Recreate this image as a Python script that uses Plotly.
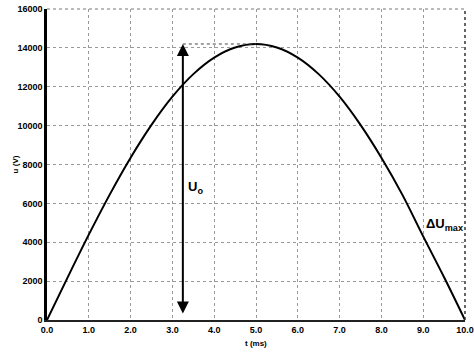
import plotly.graph_objects as go

t_ms = [0.0, 0.5, 1.0, 1.5, 2.0, 2.5, 3.0, 3.5, 4.0, 4.5, 5.0, 5.5, 6.0, 6.5, 7.0, 7.5, 8.0, 8.5, 9.0, 9.5, 10.0]
u_v = [0, 2220, 4390, 6450, 8350, 10040, 11490, 12650, 13500, 14020, 14200,
       14020, 13500, 12650, 11490, 10040, 8350, 6450, 4300, 2200, 0]

x_ticks = [0, 1, 2, 3, 4, 5, 6, 7, 8, 9, 10]
x_labels = ["0.0", "1.0", "2.0", "3.0", "4.0", "5.0", "6.0", "7.0", "8.0", "9.0", "10.0"]
y_ticks = [0, 2000, 4000, 6000, 8000, 10000, 12000, 14000, 16000]
y_labels = [str(v) for v in y_ticks]

arrow_t = 3.25
peak_u = 14200

fig = go.Figure()
fig.add_trace(go.Scatter(x=t_ms, y=u_v, mode="lines", line=dict(color="black", width=2, shape="spline"),
                         showlegend=False, hoverinfo="skip"))
# peak reference dotted line
fig.add_trace(go.Scatter(x=[arrow_t, 5.0], y=[peak_u, peak_u], mode="lines",
                         line=dict(color="#444", width=1, dash="dot"), showlegend=False, hoverinfo="skip"))

fam = "Liberation Sans, Arial"
tickfont = dict(size=9, family=fam, color="black", weight="bold")

fig.update_layout(
    width=474, height=355,
    margin=dict(l=47, r=9, t=9, b=35),
    paper_bgcolor="white", plot_bgcolor="white",
    font=dict(family=fam, size=9, color="black"),
    xaxis=dict(range=[0, 10], tickvals=x_ticks, ticktext=x_labels, showgrid=True, automargin=False,
               gridcolor="#999", griddash="dot", gridwidth=1, zeroline=False,
               showline=True, linecolor="#222", linewidth=1.5, mirror=False,
               ticks="", tickfont=tickfont),
    yaxis=dict(range=[0, 16000], tickvals=y_ticks, ticktext=y_labels, showgrid=True, automargin=False,
               gridcolor="#999", griddash="dot", gridwidth=1, zeroline=False,
               showline=True, linecolor="black", linewidth=2.5,
               ticks="", tickfont=tickfont),
    shapes=[dict(type="line", xref="paper", yref="paper", x0=1, x1=1, y0=0, y1=1,
                 line=dict(color="#333", width=1.5, dash="dot")),
            dict(type="line", xref="paper", yref="paper", x0=0, x1=1, y0=1, y1=1,
                 line=dict(color="#777", width=1, dash="dot"))],
    annotations=[
        dict(x=arrow_t, y=peak_u, ax=arrow_t, ay=0, xref="x", yref="y", axref="x", ayref="y",
             showarrow=True, arrowhead=2, arrowsize=1.2, arrowwidth=2, arrowcolor="black",
             arrowside="end+start", text=" "),
        dict(x=3.55, y=6800, xref="x", yref="y", text="U<sub>o</sub>", showarrow=False,
             font=dict(size=13, family=fam, color="black", weight="bold")),
        dict(x=9.5, y=4900, xref="x", yref="y", text="ΔU<sub>max</sub>", showarrow=False,
             font=dict(size=13, family=fam, color="black", weight="bold")),
        dict(x=0.5, y=-0.095, xref="paper", yref="paper", text="t (ms)", showarrow=False,
             font=dict(size=8, family=fam, color="black", weight="bold")),
        dict(x=-0.09, y=0.5, xref="paper", yref="paper", text="u (V)", showarrow=False, textangle=-90,
             font=dict(size=8, family=fam, color="black", weight="bold")),
    ],
)

fig.write_html("out.html")
